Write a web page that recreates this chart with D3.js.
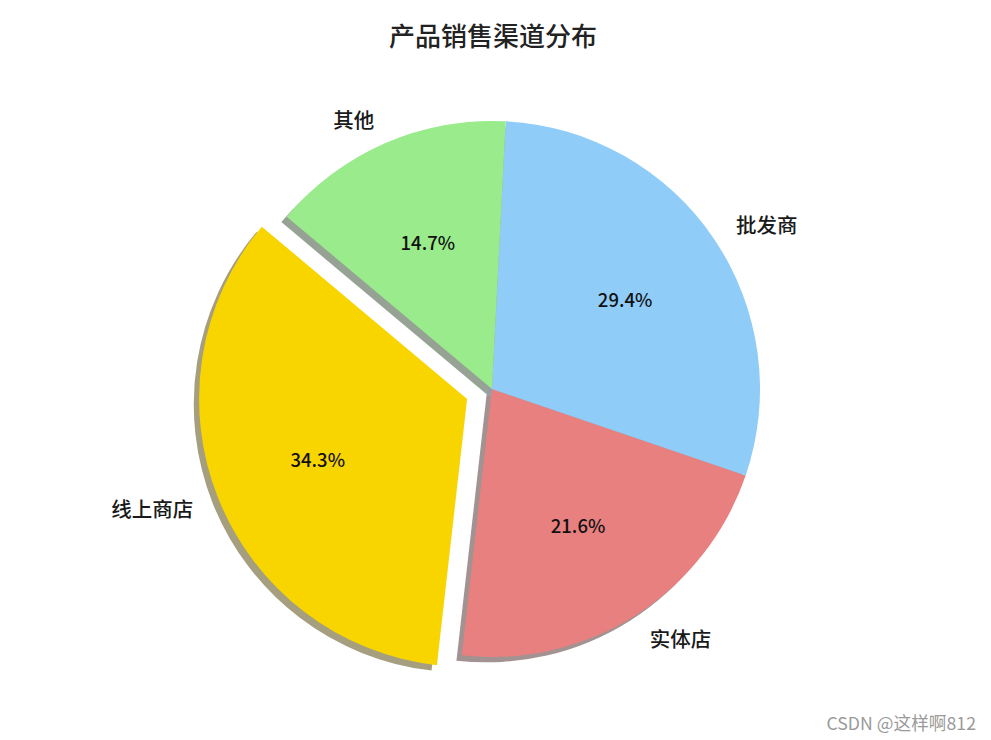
<!DOCTYPE html>
<html>
<head>
<meta charset="utf-8">
<script src="https://cdn.jsdelivr.net/npm/d3@7"></script>
<style>
  html, body { margin: 0; padding: 0; background: #fff; }
  svg { display: block; }
</style>
</head>
<body>
<svg id="chart" width="991" height="740"></svg>
<script>
const categories = ["线上商店", "实体店", "批发商", "其他"];
const values = [35, 22, 30, 15];
const colors = ["#F9D500", "#E88080", "#8FCCF8", "#99EB8C"];
const explode = [0.1, 0, 0, 0];
const titleText = "产品销售渠道分布";
const watermark = "CSDN @这样啊812";

const W = 991, H = 740;
const cx = 492, cy = 389, R = 268;
const startDeg = 140; // matplotlib startangle (counterclockwise from 3 o'clock)
const font = "'Noto Sans CJK SC', 'Noto Sans', sans-serif";

const svg = d3.select("#chart");

// d3 angles: 0 at 12 o'clock, clockwise. matplotlib θ -> d3 = π/2 - θ
const a0 = Math.PI / 2 - startDeg * Math.PI / 180;
const pie = d3.pie().value(d => d.v).sort(null)
  .startAngle(a0).endAngle(a0 - 2 * Math.PI);
const data = categories.map((c, i) => ({ c, v: values[i], col: colors[i], ex: explode[i] }));
const arcs = pie(data);
const total = d3.sum(values);

const arc = d3.arc().innerRadius(0).outerRadius(R);
const mid = d => (d.startAngle + d.endAngle) / 2;
const off = (d, k) => [Math.sin(mid(d)) * k, -Math.cos(mid(d)) * k];

const g = svg.append("g").attr("transform", `translate(${cx},${cy})`);

// shadows (offset left and down), beneath all wedges
const shadowOff = 0.02 * R;
g.selectAll("path.shadow").data(arcs).enter().append("path")
  .attr("class", "shadow")
  .attr("d", arc)
  .attr("transform", d => {
    const [dx, dy] = off(d, d.data.ex * R);
    return `translate(${dx - shadowOff},${dy + shadowOff})`;
  })
  .attr("fill", d => {
    const c = d3.rgb(d.data.col);
    return d3.rgb(c.r * 0.3, c.g * 0.3, c.b * 0.3).toString();
  })
  .attr("fill-opacity", 0.5);

// wedges
g.selectAll("path.wedge").data(arcs).enter().append("path")
  .attr("class", "wedge")
  .attr("d", arc)
  .attr("transform", d => {
    const [dx, dy] = off(d, d.data.ex * R);
    return `translate(${dx},${dy})`;
  })
  .attr("fill", d => d.data.col);

// category labels at 1.1 R (plus explode)
g.selectAll("text.lab").data(arcs).enter().append("text")
  .attr("class", "lab")
  .attr("x", d => off(d, (d.data.ex + 1.1) * R)[0])
  .attr("y", d => off(d, (d.data.ex + 1.1) * R)[1])
  .attr("text-anchor", d => off(d, 1)[0] > 0 ? "start" : "end")
  .attr("dominant-baseline", "central")
  .attr("font-family", font)
  .attr("font-size", 20.5)
  .attr("font-weight", 500)
  .attr("fill", "#1a1a1a")
  .text(d => d.data.c);

// percent labels at 0.6 R
g.selectAll("text.pct").data(arcs).enter().append("text")
  .attr("class", "pct")
  .attr("x", d => off(d, (d.data.ex + 0.6) * R)[0])
  .attr("y", d => off(d, (d.data.ex + 0.6) * R)[1])
  .attr("text-anchor", "middle")
  .attr("dominant-baseline", "central")
  .attr("font-family", font)
  .attr("font-size", 18.5)
  .attr("font-weight", 500)
  .attr("fill", "#111")
  .text(d => (d.data.v / total * 100).toFixed(1) + "%");

// title
svg.append("text")
  .attr("x", 493).attr("y", 34)
  .attr("text-anchor", "middle")
  .attr("dominant-baseline", "central")
  .attr("font-family", font)
  .attr("font-size", 26)
  .attr("font-weight", 500)
  .attr("fill", "#222")
  .text(titleText);

// watermark
svg.append("text")
  .attr("x", 976).attr("y", 722)
  .attr("text-anchor", "end")
  .attr("dominant-baseline", "central")
  .attr("font-family", font)
  .attr("font-size", 17.7)
  .attr("fill", "#9a9a9a")
  .text(watermark);
</script>
</body>
</html>
